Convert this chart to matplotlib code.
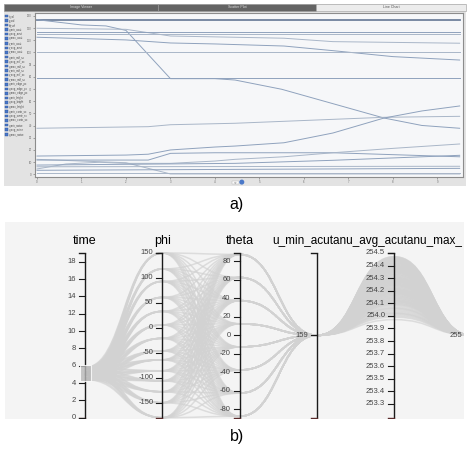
import matplotlib.pyplot as plt
from matplotlib.path import Path
from matplotlib.patches import PathPatch, Rectangle, Circle

plt.rcParams['font.family'] = ['Liberation Sans', 'DejaVu Sans']

# ---------- panel a: screenshot of the line chart tool ----------
tab_names = ["Image Viewer", "Scatter Plot", "Line Chart"]
legend_names = ["t_val", "p_val", "th_val",
                "u_min_acut", "u_avg_acut", "u_max_acut",
                "v_min_acut", "v_avg_acut", "v_max_acut",
                "u_min_mtf_sc", "u_avg_mtf_sc", "u_max_mtf_sc",
                "v_min_mtf_sc", "v_avg_mtf_sc", "v_max_mtf_sc",
                "u_min_edge_px", "u_avg_edge_px", "u_max_edge_px",
                "u_min_bright", "u_avg_bright", "u_max_bright",
                "u_min_contr_sc", "u_avg_contr_sc", "u_max_contr_sc",
                "u_min_noise", "u_avg_noise", "u_max_noise"]

line_t = [
    [0, 19],
    [0, 2, 3.1, 4, 6, 8, 8.9, 11, 15.6, 17.3, 19],
    [0, 4, 6, 8.9, 11.1, 13.3, 19],
    [0, 19],
    [0, 19],
    [0, 4, 6, 8, 11.1, 13.3, 16, 19],
    [0, 19],
    [0, 19],
    [0, 5, 6, 8.9, 15.6, 19],
    [0, 4, 5, 6, 8, 8.9, 11.1, 13.3, 15.6, 17.3, 19],
    [0, 4, 6, 19],
    [0, 5, 6, 8, 13.3, 19],
    [0, 1.3, 2.8, 4, 6, 8, 8.9, 11.1, 13.3, 16, 19],
    [0, 8.9, 13.3, 19],
    [0, 19],
    [0, 19],
    [0, 19],
]
line_y = [
    [126.9, 126.9],
    [126.9, 122.6, 121.8, 118.1, 78.5, 78.5, 77.4, 69.8, 46.2, 40.1, 37.8],
    [119.9, 119.0, 113.5, 112.5, 111.7, 108.9, 107.6],
    [116.6, 116.6],
    [114.9, 114.9],
    [112.5, 110.3, 107.8, 107.0, 105.3, 101.5, 96.6, 93.8],
    [100.7, 100.7],
    [79.1, 79.1],
    [37.8, 39.1, 40.7, 41.9, 46.8, 47.6],
    [15.0, 15.8, 16.5, 20.0, 22.4, 23.2, 25.9, 33.9, 46.2, 52.0, 56.1],
    [12.3, 9.5, 0.3, 0.3],
    [11.7, 11.7, 17.2, 17.7, 17.7, 14.4],
    [4.4, 8.5, 9.9, 9.0, 9.0, 10.9, 12.3, 14.4, 17.7, 21.3, 24.9],
    [7.6, 9.0, 11.5, 15.6],
    [6.2, 6.6],
    [3.3, 4.9],
    [0.8, 0.8],
]

# ---------- panel b: parallel coordinates ----------
dims = ["time", "phi", "theta", "u_min_acutance", "u_avg_acutance", "u_max_acutance"]
domains = [(0, 19), (-180, 150), (-89, 89), (159, 159), (253.19, 254.5), (255, 255)]
phi_vals = [-180, -150, -128, -106, -86, -64, -46, -21, 6, 33, 61, 93, 118, 150]
theta_vals = [-87.5, -62.5, -37.5, -12.5, 12.5, 37.5, 62.5, 87.5]
time_by_theta = [4.4, 4.6, 4.9, 5.0, 5.1, 5.3, 5.6, 5.8]
u_min_val = 159
u_max_val = 255
u_avg_table = [
    [254.41, 254.35, 254.22, 254.12, 254.05, 254.18, 254.30, 254.44],
    [254.38, 254.29, 254.16, 254.02, 253.99, 254.11, 254.27, 254.40],
    [254.44, 254.33, 254.21, 254.08, 254.03, 254.15, 254.31, 254.46],
    [254.47, 254.39, 254.26, 254.14, 254.09, 254.20, 254.36, 254.45],
    [254.43, 254.37, 254.24, 254.19, 254.13, 254.23, 254.34, 254.42],
    [254.40, 254.31, 254.28, 254.17, 254.10, 254.21, 254.29, 254.39],
    [254.36, 254.30, 254.25, 254.20, 254.16, 254.24, 254.33, 254.41],
    [254.42, 254.34, 254.27, 254.18, 254.12, 254.22, 254.35, 254.43],
    [254.45, 254.38, 254.23, 254.11, 254.06, 254.19, 254.32, 254.44],
    [254.46, 254.36, 254.20, 254.07, 254.01, 254.14, 254.30, 254.47],
    [254.39, 254.32, 254.19, 254.04, 253.97, 254.10, 254.26, 254.42],
    [254.37, 254.28, 254.17, 254.06, 254.00, 254.13, 254.28, 254.38],
    [254.44, 254.40, 254.29, 254.21, 254.15, 254.25, 254.37, 254.46],
    [254.35, 254.27, 254.18, 254.09, 254.02, 254.12, 254.25, 254.39],
]
axis_ticks = [
    [0, 2, 4, 6, 8, 10, 12, 14, 16, 18],
    [-150, -100, -50, 0, 50, 100, 150],
    [-80, -60, -40, -20, 0, 20, 40, 60, 80],
    [159],
    [253.3, 253.4, 253.5, 253.6, 253.7, 253.8, 253.9, 254.0, 254.1, 254.2, 254.3, 254.4, 254.5],
    [255],
]
tick_fmt = ["{:g}", "{:g}", "{:g}", "{:g}", "{:.1f}", "{:g}"]
brush_time = (4.2, 6.1)


def norm(i, v):
    lo, hi = domains[i]
    if lo == hi:
        return 0.5
    return (v - lo) / (hi - lo)


fig = plt.figure(figsize=(4.74, 4.49), dpi=100)

# background / decoration layer in pixel units
bg = fig.add_axes([0, 0, 1, 1])
bg.set_xlim(0, 474)
bg.set_ylim(449, 0)
bg.axis('off')

bg.add_patch(Rectangle((4, 4), 462, 182, color='#e3e3e3', lw=0))
tab_edges = [4, 158, 316, 466]
tab_colors = ['#646464', '#646464', '#ececec']
tab_text = ['#dddddd', '#dddddd', '#555555']
for k, name in enumerate(tab_names):
    bg.add_patch(Rectangle((tab_edges[k], 4), tab_edges[k + 1] - tab_edges[k], 6.5,
                           facecolor=tab_colors[k], edgecolor='#9a9a9a', lw=0.4))
    bg.text((tab_edges[k] + tab_edges[k + 1]) / 2, 7.3, name, fontsize=2.6,
            color=tab_text[k], ha='center', va='center')

for k, name in enumerate(legend_names):
    yy = 16 + k * 4.55
    bg.add_patch(Rectangle((5, yy - 1.3), 2.8, 2.6, facecolor='#4a78c8', edgecolor='#2c55a0', lw=0.3))
    bg.text(9.0, yy, name, fontsize=1.9, color='#444444', va='center', ha='left')

# little scroll widget under the plot
bg.add_patch(Rectangle((232, 180.5), 7, 3.2, facecolor='#fafafa', edgecolor='#b0b0b0', lw=0.3))
bg.text(235.5, 182.1, '<>', fontsize=2.2, color='#777777', ha='center', va='center')
bg.add_patch(Circle((241.8, 182.1), 1.8, color='#4a78c8'))

bg.text(237, 205, 'a)', fontsize=11.5, ha='center', va='center')
bg.text(237, 437, 'b)', fontsize=11.5, ha='center', va='center')

# panel a plot area
ax_a = fig.add_axes([35 / 474, 1 - 177 / 449, 428 / 474, 164 / 449])
ax_a.set_facecolor('#f6f7f9')
for k in range(len(line_t)):
    if k == 0:
        ax_a.plot(line_t[k], line_y[k], color='#6f819c', lw=1.3)
    else:
        ax_a.plot(line_t[k], line_y[k], color='#8fa2bd' if k % 2 else '#a9b6c8', lw=0.7)
ax_a.set_xlim(-0.09, 19.15)
ax_a.set_ylim(-2.2, 132.4)
ax_a.set_xticks(range(0, 19, 2))
ax_a.set_xticklabels([str(v // 2) for v in range(0, 19, 2)])
ax_a.set_yticks(range(0, 131, 10))
ax_a.tick_params(labelsize=2.0, length=1.5, width=0.4, colors='#666666', pad=0.8)
for s in ax_a.spines.values():
    s.set_color('#8c8c8c')
    s.set_linewidth(0.8)

# panel b
ax_b = fig.add_axes([5 / 474, 30 / 449, 459 / 474, 197 / 449])
ax_b.set_facecolor('#f4f4f4')
for s in ax_b.spines.values():
    s.set_visible(False)
ax_b.set_xticks([])
ax_b.set_yticks([])
ax_b.set_xlim((5 - 85) / 77.3, (464 - 85) / 77.3)
ax_b.set_ylim((417.7 - 419) / 164.7, (417.7 - 222) / 164.7)

for p, phi in enumerate(phi_vals):
    for q, theta in enumerate(theta_vals):
        rec = [time_by_theta[q], phi, theta, u_min_val, u_avg_table[p][q], u_max_val]
        ys = [norm(i, v) for i, v in enumerate(rec)]
        verts = [(0, ys[0])]
        codes = [Path.MOVETO]
        for i in range(len(ys) - 1):
            verts += [(i + 0.5, ys[i]), (i + 0.5, ys[i + 1]), (i + 1, ys[i + 1])]
            codes += [Path.CURVE4] * 3
        ax_b.add_patch(PathPatch(Path(verts, codes), facecolor='none',
                                 edgecolor='#d2d2d2', lw=1.1, alpha=0.7))

cap = 6 / 77.3
for i, name in enumerate(dims):
    ax_b.plot([i, i], [0, 1], color='#1a1a1a', lw=1.0, solid_capstyle='butt')
    ax_b.plot([i - cap, i], [1, 1], color='#1a1a1a', lw=1.0)
    ax_b.plot([i - cap, i], [0, 0], color='#5a2c2c', lw=1.0)
    for v in axis_ticks[i]:
        n = norm(i, v)
        ax_b.plot([i - cap, i], [n, n], color='#1a1a1a', lw=0.8)
        ax_b.text(i - 9 / 77.3, n, tick_fmt[i].format(v), fontsize=5.5, color='#444444',
                  ha='right', va='center')

ax_b.add_patch(Rectangle((-5 / 77.3, norm(0, brush_time[0])), 11 / 77.3,
                         norm(0, brush_time[1]) - norm(0, brush_time[0]),
                         facecolor='#b8b8b8', edgecolor='white', lw=0.8, alpha=0.8, zorder=5))

title_y = (417.7 - 241) / 164.7
for i in range(3):
    ax_b.text(i, title_y, dims[i], fontsize=9, ha='center', va='center')
ax_b.text((272 - 85) / 77.3, title_y, "u_min_acutan" + "u_avg_acutan" + "u_max_",
          fontsize=8.5, ha='left', va='center', clip_on=True)

fig.savefig('out.png', dpi=100)
